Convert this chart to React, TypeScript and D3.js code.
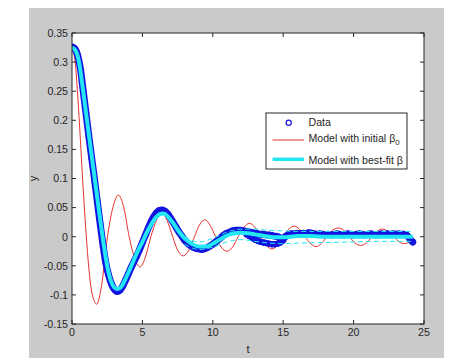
import React from "react";
import * as d3 from "d3";

// ---- data ----
const dataStep = 0.2;
const dataY = [
  0.326, 0.323, 0.312, 0.288, 0.25, 0.211, 0.172, 0.135, 0.098, 0.06,
  0.022, -0.014, -0.045, -0.066, -0.081, -0.09, -0.094, -0.092, -0.085, -0.075,
  -0.064, -0.053, -0.043, -0.033, -0.022, -0.01, 0.002, 0.014, 0.025, 0.034,
  0.041, 0.045, 0.046, 0.044, 0.039, 0.032, 0.024, 0.016, 0.008, 0.001,
  -0.006, -0.011, -0.015, -0.018, -0.02, -0.021, -0.022, -0.021, -0.019, -0.016,
  -0.013, -0.009, -0.005, -0.001, 0.003, 0.006, 0.008, 0.01, 0.011, 0.011,
  0.011, 0.01, 0.009, 0.008, 0.007, 0.006, 0.005, 0.004, 0.004, 0.003,
  0.003, 0.002, 0.001, 0.0, -0.002, -0.003, 0.001, 0.004, 0.005, 0.005,
  0.006, 0.005, 0.006, 0.005, 0.007, 0.006, 0.005, 0.004, 0.005, 0.004,
  0.003, 0.004, 0.003, 0.004, 0.005, 0.004, 0.003, 0.004, 0.005, 0.004,
  0.003, 0.004, 0.005, 0.004, 0.003, 0.004, 0.005, 0.004, 0.003, 0.004,
  0.005, 0.004, 0.005, 0.004, 0.005, 0.004, 0.005, 0.004, 0.004, 0.002,
  -0.004, -0.009,
];
// secondary branch of the data (t 12.4 - 15)
const data2T = [12.4, 12.6, 12.8, 13.0, 13.2, 13.4, 13.6, 13.8, 14.0, 14.2, 14.4, 14.6, 14.8, 15.0];
const data2Y = [0.004, 0.001, -0.002, -0.005, -0.007, -0.009, -0.01, -0.011, -0.012, -0.013, -0.013, -0.012, -0.01, -0.006];

const fitT = [0, 0.25, 0.5, 0.75, 1, 1.25, 1.5, 1.75, 2, 2.25, 2.5, 2.75, 3, 3.25, 3.5, 3.75, 4, 4.25, 4.5, 4.75,
  5, 5.25, 5.5, 5.75, 6, 6.25, 6.5, 6.75, 7, 7.25, 7.5, 7.75, 8, 8.5, 9, 9.5, 10, 10.5, 11, 11.5, 12, 12.5,
  13, 13.5, 14, 14.5, 15, 15.5, 16, 17, 18, 19, 20, 21, 22, 23, 24, 24.2];
const fitY = [0.325, 0.32, 0.3, 0.258, 0.212, 0.166, 0.12, 0.075, 0.03, -0.013, -0.05, -0.075, -0.087, -0.09, -0.086, -0.075, -0.062, -0.048, -0.034, -0.021,
  -0.009, 0.004, 0.016, 0.026, 0.034, 0.039, 0.04, 0.036, 0.029, 0.021, 0.012, 0.004, -0.003, -0.012, -0.017, -0.017, -0.012, -0.005, 0.002, 0.006, 0.007, 0.006,
  0.004, 0.002, 0.0, -0.001, -0.001, 0.0, 0.001, 0.001, 0.0, 0.0, 0.0, 0.0, 0.0, 0.0, 0.0, 0.0];

const boundT = [8, 9, 10, 11, 12, 13, 14, 15, 16, 18, 20, 22, 24.2];
const boundUpper = [0.0, -0.009, -0.003, 0.008, 0.013, 0.013, 0.011, 0.01, 0.009, 0.009, 0.009, 0.009, 0.009];
const boundLower = [-0.013, -0.022, -0.018, -0.009, -0.005, -0.008, -0.011, -0.012, -0.011, -0.01, -0.009, -0.008, -0.008];

const redT = [0, 0.2, 0.4, 0.6, 0.8, 1.0, 1.2, 1.4, 1.75, 2.1, 2.52, 2.9, 3.29, 3.68, 4.06, 4.45, 4.83, 5.2, 5.6, 6.0,
  6.38, 6.75, 7.15, 7.5, 7.9, 8.3, 8.7, 9.05, 9.45, 9.8, 10.2, 10.6, 11.0, 11.4, 11.8, 12.2, 12.6, 13.0, 13.4, 13.8,
  14.2, 14.6, 15.0, 15.4, 15.8, 16.15, 16.55, 16.95, 17.35, 17.7, 18.1, 18.5, 18.9, 19.3, 19.7, 20.1, 20.5, 20.9, 21.3,
  21.65, 22.05, 22.45, 22.85, 23.25, 23.6, 24.0, 24.2];
const redY = [0.322, 0.305, 0.245, 0.165, 0.08, 0.005, -0.055, -0.095, -0.116, -0.084, 0.0, 0.05, 0.0715, 0.05, 0.0, -0.037,
  -0.052, -0.036, 0.0, 0.028, 0.04, 0.028, 0.0, -0.023, -0.033, -0.023, 0.0, 0.02, 0.029, 0.02, 0.0, -0.018, -0.025, -0.018,
  0.0, 0.016, 0.023, 0.016, 0.0, -0.015, -0.021, -0.015, 0.0, 0.013, 0.018, 0.013, 0.0, -0.012, -0.017, -0.012, 0.0, 0.011,
  0.015, 0.011, 0.0, -0.011, -0.015, -0.011, 0.0, 0.009, 0.013, 0.009, 0.0, -0.009, -0.012, -0.009, -0.006];

const xTicks = [0, 5, 10, 15, 20, 25];
const yTicks = [-0.15, -0.1, -0.05, 0, 0.05, 0.1, 0.15, 0.2, 0.25, 0.3, 0.35];
const legendLabels = ["Data", "Model with initial β", "Model with best-fit β"];

export default function App() {
  const W = 474, H = 358;
  const L = 72, R = 424, T = 33, B = 324;
  const x = d3.scaleLinear().domain([0, 25]).range([L, R]);
  const y = d3.scaleLinear().domain([-0.15, 0.35]).range([B, T]);
  const font = "'Liberation Sans', Arial, sans-serif";
  const axisColor = "#262626";

  const lineXY = (ts: number[], vs: number[], curve: any) =>
    d3.line<number>().x((_, i) => x(ts[i])).y((v) => y(v)).curve(curve)(vs) || "";

  const dataT = dataY.map((_, i) => i * dataStep);
  const dataPts = dataY.map((v, i) => [dataT[i], v]).concat(data2T.map((t, i) => [t, data2Y[i]]));

  const fmt = (v: number) => String(+v.toFixed(2));

  const tickLen = 4;
  const legX = 266, legY = 113, legW = 141, legH = 56;
  const blue = "#1414e0";
  const red = "#e8302f";
  const cyan = "#22e6f2";

  return (
    <svg width={W} height={H} style={{ position: "absolute", left: 0, top: 0, background: "#fff" }}>
      <rect x={0} y={0} width={W} height={H} fill="#fff" />
      <rect x={29} y={8} width={415} height={350} fill="#cacaca" />
      <rect x={L} y={T} width={R - L} height={B - T} fill="#fff" />
      <defs>
        <clipPath id="plotclip">
          <rect x={L} y={T} width={R - L} height={B - T} />
        </clipPath>
      </defs>
      <g clipPath="url(#plotclip)">
        <path d={lineXY(redT, redY, d3.curveMonotoneX)} fill="none" stroke={red} strokeWidth={1} />
        {/* dense data markers overlap into a band */}
        <path d={lineXY(dataT, dataY, d3.curveMonotoneX)} fill="none" stroke={blue} strokeWidth={7} strokeLinejoin="round" strokeLinecap="round" />
        <path d={lineXY(data2T, data2Y, d3.curveMonotoneX)} fill="none" stroke={blue} strokeWidth={6} strokeLinejoin="round" strokeLinecap="round" />
        {dataPts.map((p, i) => (
          <circle key={i} cx={x(p[0])} cy={y(p[1])} r={2.6} fill="none" stroke={blue} strokeWidth={1.1} />
        ))}
        <path d={lineXY(boundT, boundUpper, d3.curveMonotoneX)} fill="none" stroke={cyan} strokeWidth={1} strokeDasharray="5,3" />
        <path d={lineXY(boundT, boundLower, d3.curveMonotoneX)} fill="none" stroke={cyan} strokeWidth={1} strokeDasharray="5,3" />
        <path d={lineXY(fitT, fitY, d3.curveMonotoneX)} fill="none" stroke={cyan} strokeWidth={4} strokeLinejoin="round" />
      </g>
      <rect x={L} y={T} width={R - L} height={B - T} fill="none" stroke={axisColor} strokeWidth={1} />
      {xTicks.map((t) => (
        <g key={"x" + t}>
          <line x1={x(t)} x2={x(t)} y1={B} y2={B - tickLen} stroke={axisColor} />
          <line x1={x(t)} x2={x(t)} y1={T} y2={T + tickLen} stroke={axisColor} />
          <text x={x(t)} y={B + 12} textAnchor="middle" fontFamily={font} fontSize={10.6} fill={axisColor}>{t}</text>
        </g>
      ))}
      {yTicks.map((v) => (
        <g key={"y" + v}>
          <line x1={L} x2={L + tickLen} y1={y(v)} y2={y(v)} stroke={axisColor} />
          <line x1={R} x2={R - tickLen} y1={y(v)} y2={y(v)} stroke={axisColor} />
          <text x={L - 4} y={y(v) + 3.8} textAnchor="end" fontFamily={font} fontSize={10.6} fill={axisColor}>{fmt(v)}</text>
        </g>
      ))}
      <text x={(L + R) / 2} y={353} textAnchor="middle" fontFamily={font} fontSize={11} fill={axisColor}>t</text>
      <text transform={`translate(37,${(T + B) / 2}) rotate(-90)`} textAnchor="middle" fontFamily={font} fontSize={11} fill={axisColor}>y</text>

      <g>
        <rect x={legX} y={legY} width={legW} height={legH} fill="#fff" stroke={axisColor} strokeWidth={1} />
        <circle cx={288.7} cy={122.7} r={2.6} fill="none" stroke={blue} strokeWidth={1.2} />
        <text x={308.5} y={126.4} fontFamily={font} fontSize={10.6} fill={axisColor}>{legendLabels[0]}</text>
        <line x1={272.5} x2={304} y1={140} y2={140} stroke={red} strokeWidth={1} />
        <text x={308.5} y={142} fontFamily={font} fontSize={10.6} fill={axisColor}>
          {legendLabels[1]}
          <tspan dy={3} fontSize={8}>0</tspan>
        </text>
        <line x1={272.5} x2={304} y1={159.3} y2={159.3} stroke={cyan} strokeWidth={3.5} />
        <text x={308.5} y={163.6} fontFamily={font} fontSize={10.6} fill={axisColor}>{legendLabels[2]}</text>
      </g>
    </svg>
  );
}
